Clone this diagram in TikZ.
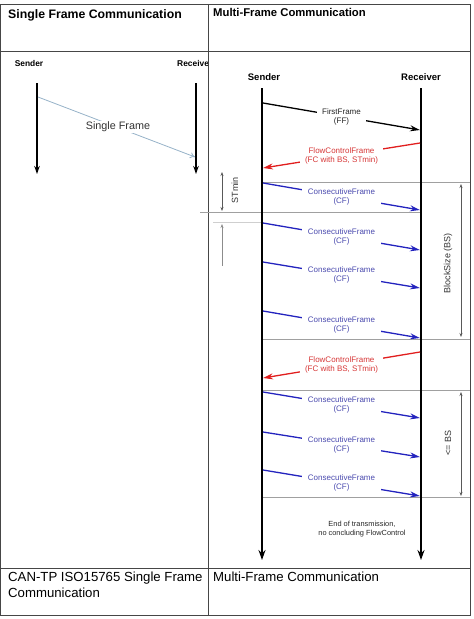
\documentclass[tikz,border=0pt]{standalone}
\usepackage{fontspec}
\setmainfont{Liberation Sans}
\usetikzlibrary{arrows.meta, positioning}

\definecolor{cfblue}{RGB}{35,35,190}
\definecolor{cftext}{RGB}{75,75,175}
\definecolor{fcred}{RGB}{225,30,30}
\definecolor{fctext}{RGB}{215,55,55}
\definecolor{sfblue}{RGB}{150,178,200}
\definecolor{gridgray}{RGB}{160,160,160}
\definecolor{tablegray}{RGB}{70,70,70}

\tikzset{
  tableline/.style={draw=tablegray, line width=1pt},
  gridline/.style={draw=gridgray, line width=0.8pt},
  lifeline/.style={line width=2.6pt, -{Stealth[length=10pt,width=7pt]}},
  thinlife/.style={line width=1.8pt, -{Stealth[length=8pt,width=5.5pt]}},
  msgline/.style={line width=1.3pt, -{Stealth[length=10pt,width=6pt]}},
  msgtext/.style={fill=white, align=center, inner xsep=5.5pt, inner ysep=0.5pt,
    font=\fontsize{8}{9}\selectfont},
  dimarrow/.style={draw=black!65, line width=0.7pt},
  dimtext/.style={font=\fontsize{9}{10}\selectfont, text=black!80, rotate=90},
  headtext/.style={font=\bfseries\fontsize{12.3}{14}\selectfont, inner sep=0pt},
  foottext/.style={font=\fontsize{13.2}{15.5}\selectfont, inner sep=0pt, align=left},
  partytext/.style={font=\bfseries\fontsize{9.5}{11}\selectfont, inner sep=0pt}
}

\begin{document}
\begin{tikzpicture}[x=1pt, y=-1pt]
  \useasboundingbox (0,0) rectangle (474,619);

  % table
  \draw[tableline] (0.6,4) rectangle (470,615);
  \draw[tableline] (208,4) -- (208,615); % column divider
  \draw[tableline] (0.6,51) -- (470,51); % header row
  \draw[tableline] (0.6,568) -- (470,568); % caption row

  % headers and captions
  \node[headtext, anchor=base west] (hsingle) at (8,18.5) {Single Frame Communication};
  \node[headtext, font=\bfseries\fontsize{11.3}{13}\selectfont, anchor=base west] (hmulti) at (213,16) {Multi-Frame Communication};
  \node[foottext, anchor=north west] (csingle) at (8,572) {CAN-TP ISO15765 Single Frame\\Communication};
  \node[foottext, anchor=north west] (cmulti) at (213,571.5) {Multi-Frame Communication};

  % single frame: parties
  \node[partytext, font=\bfseries\fontsize{8.4}{10}\selectfont, anchor=base] (sfsnd) at (29,66) {Sender};
  \begin{scope}
    \clip (170,55) rectangle (207.3,75);
    \node[partytext, font=\bfseries\fontsize{8.4}{10}\selectfont, anchor=base west] (sfrcv) at (177,66) {Receiver};
  \end{scope}
  \coordinate (sfsnd-top) at (37,83);
  \coordinate (sfsnd-end) at (37,174);
  \coordinate (sfrcv-top) at (196,83);
  \coordinate (sfrcv-end) at (196,174);
  \draw[thinlife] (sfsnd-top) -- (sfsnd-end);
  \draw[thinlife] (sfrcv-top) -- (sfrcv-end);

  % single frame message
  \coordinate (sf-s) at (38,97);
  \coordinate (sf-r) at (195,157);
  \draw[sfblue, line width=0.8pt, -{To[length=5pt,width=6pt]}] (sf-s) -- (sf-r);
  \node[fill=white, inner sep=1pt, text=black!80, font=\fontsize{10.8}{12}\selectfont] (sflab) at (118,127) {Single Frame};

  % multi frame: parties
  \node[partytext, anchor=base] (snd) at (264,80) {Sender};
  \node[partytext, anchor=base] (rcv) at (421,80) {Receiver};
  \coordinate (snd-top) at (262,88);
  \coordinate (snd-end) at (262,560);
  \coordinate (rcv-top) at (421,88);
  \coordinate (rcv-end) at (421,560);

  % grid lines
  \draw[gridline] (262,182) -- (470,182);
  \draw[gridline] (200,212) -- (421,212);
  \draw[gridline, draw=gridgray!50] (213,222.5) -- (262,222.5);
  \draw[gridline] (262,339) -- (470,339);
  \draw[gridline] (262,390) -- (470,390);
  \draw[gridline] (262,497) -- (470,497);

  \draw[lifeline] (snd-top) -- (snd-end);
  \draw[lifeline] (rcv-top) -- (rcv-end);

  % first frame
  \coordinate (ff-s) at (263,103);
  \coordinate (ff-r) at (420,130);
  \draw[msgline] (ff-s) -- node[msgtext, text=black!85] (fflab) {FirstFrame\\(FF)} (ff-r);

  % flow control frames
  \foreach \yr/\ys [count=\i] in {143/168, 352/378} {
    \coordinate (fc\i-r) at (420,\yr);
    \coordinate (fc\i-s) at (263,\ys);
    \draw[msgline, fcred] (fc\i-r) -- node[msgtext, text=fctext] (fclab\i) {FlowControlFrame\\(FC with BS, STmin)} (fc\i-s);
  }

  % consecutive frames
  \foreach \ys/\yr [count=\i] in {183/210, 223/250, 262/288, 311/338, 392/418, 432/457, 470/496} {
    \coordinate (cf\i-s) at (263,\ys);
    \coordinate (cf\i-r) at (420,\yr);
    \draw[msgline, cfblue] (cf\i-s) -- node[msgtext, text=cftext] (cflab\i) {ConsecutiveFrame\\(CF)} (cf\i-r);
  }

  % STmin
  \coordinate (st-top) at (222,172);
  \coordinate (st-bot) at (222,211);
  \draw[dimarrow, {Stealth[length=4pt,width=3pt]}-{Stealth[length=4pt,width=3pt]}] (st-top) -- (st-bot);
  \node[dimtext] (stlab) at (235,190) {STmin};
  \coordinate (st2-top) at (222,224);
  \coordinate (st2-bot) at (222,266);
  \draw[dimarrow, draw=black!45, {Stealth[length=4pt,width=3pt]}-] (st2-top) -- (st2-bot);

  % block size
  \coordinate (bs-top) at (461,184);
  \coordinate (bs-bot) at (461,337);
  \draw[dimarrow, {Stealth[length=4pt,width=3pt]}-{Stealth[length=4pt,width=3pt]}] (bs-top) -- (bs-bot);
  \node[dimtext] (bslab) at (448,263) {BlockSize (BS)};
  \coordinate (le-top) at (461,392);
  \coordinate (le-bot) at (461,496);
  \draw[dimarrow, {Stealth[length=4pt,width=3pt]}-{Stealth[length=4pt,width=3pt]}] (le-top) -- (le-bot);
  \node[dimtext] (lelab) at (448,443) {<= BS};

  % end note
  \node[align=center, text=black!85, font=\fontsize{7.4}{9}\selectfont] (endnote) at (362,529.5) {End of transmission,\\no concluding FlowControl};
\end{tikzpicture}
\end{document}
